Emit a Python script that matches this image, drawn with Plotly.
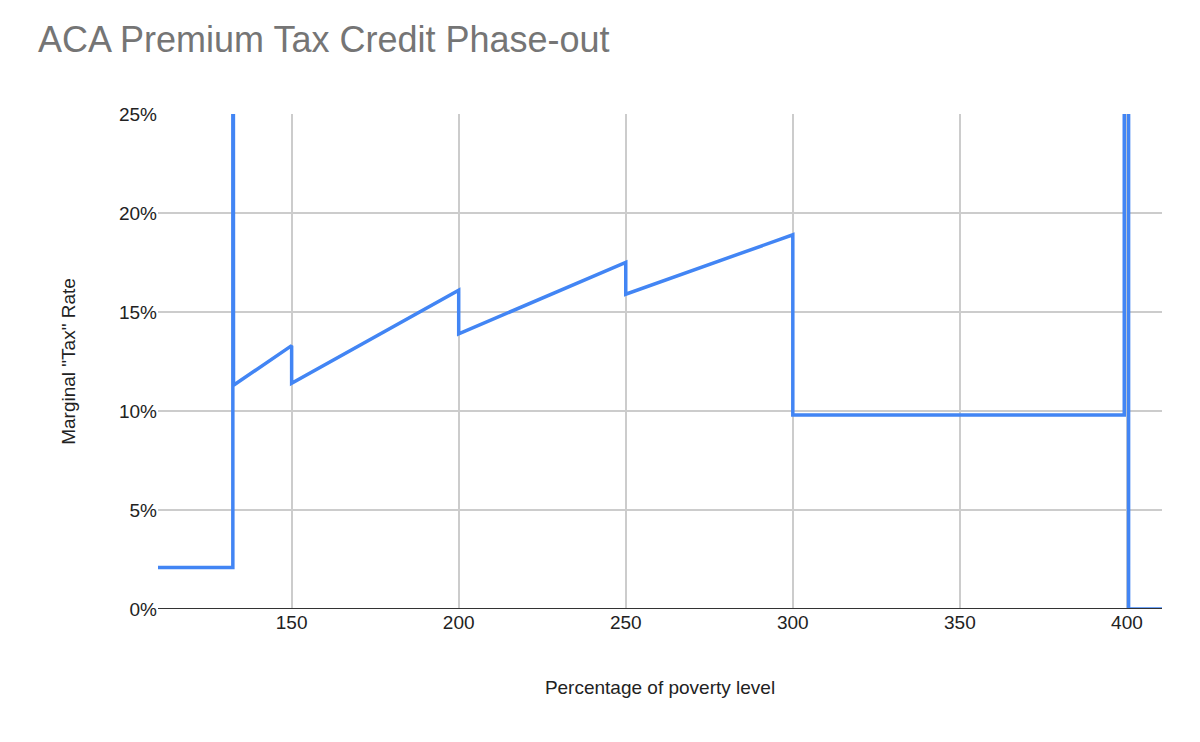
import plotly.graph_objects as go

fpl = [110, 132.4, 132.4, 132.6, 150, 150, 200, 200, 250, 250, 300, 300, 399.2, 399.2, 400.5, 400.5, 411]
rate = [0.021, 0.021, 1.0, 0.113, 0.133, 0.114, 0.161, 0.139, 0.175, 0.159, 0.189, 0.098, 0.098, 1.0, 1.0, 0.0, 0.0]

fig = go.Figure(go.Scatter(x=fpl, y=rate, mode="lines",
                           line=dict(color="#4285f4", width=3.5), cliponaxis=True))
fig.update_layout(
    width=1200, height=742, paper_bgcolor="white", plot_bgcolor="white",
    margin=dict(l=150, r=46, t=106, b=141),
    title=dict(text="ACA Premium Tax Credit Phase-out", x=0.025, xanchor="left", y=0.975, yanchor="top",
               font=dict(family="Liberation Sans, Arial", size=36, color="#757575")),
    font=dict(family="Liberation Sans, Arial", size=19, color="#222"),
    showlegend=False,
)
fig.update_xaxes(range=[110, 410.5], tickvals=[150, 200, 250, 300, 350, 400], showgrid=True,
                 gridcolor="#cccccc", gridwidth=1.5, zeroline=False, ticks="",
                 title=dict(text="Percentage of poverty level", font=dict(size=19), standoff=48))
fig.update_yaxes(range=[0, 0.25], tickvals=[0, 0.05, 0.1, 0.15, 0.2, 0.25], tickformat=".0%",
                 showgrid=True, gridcolor="#cccccc", gridwidth=1.5, zeroline=False, ticks="",
                 showline=False, ticksuffix="  ",
                 title=dict(text='Marginal "Tax" Rate', font=dict(size=19), standoff=38))
fig.add_shape(type="line", xref="paper", yref="y", x0=0, x1=1, y0=0, y1=0,
              line=dict(color="#333", width=2))
fig.write_html("out.html")
